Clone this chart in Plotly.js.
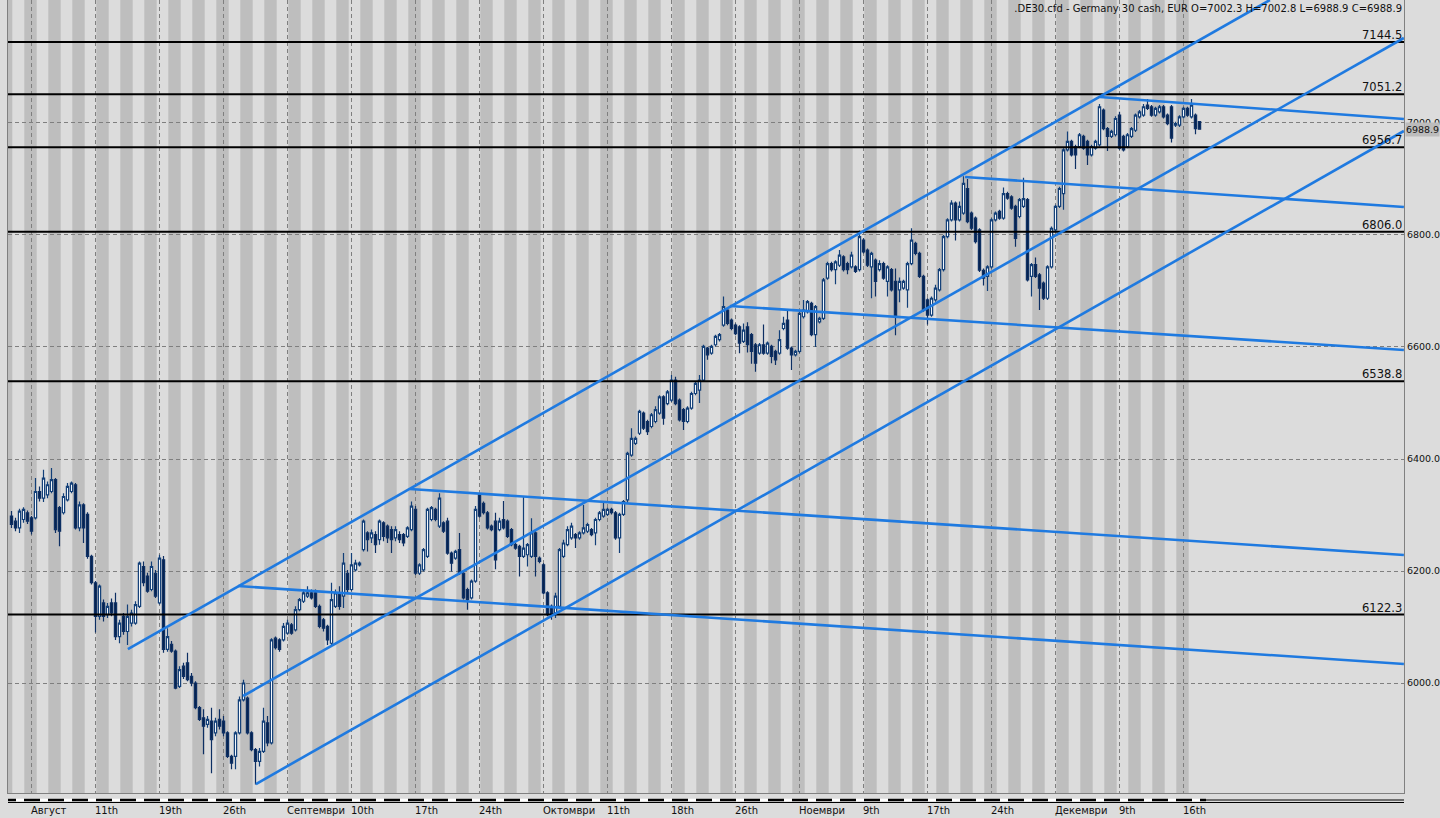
<!DOCTYPE html>
<html>
<head>
<meta charset="utf-8">
<script src="https://cdn.plot.ly/plotly-3.0.1.min.js"></script>
<style>
  html, body { margin: 0; padding: 0; background: #dcdcdc; overflow: hidden; }
  #chart { width: 1440px; height: 818px; }
</style>
</head>
<body>
<div id="chart"></div>
<script>
// one value per bar
let opens = [
  6298,6289,6277,6292,6304,6295,6295,6342,6330,6336,
  6342,6363,6313,6304,6327,6342,6354,6277,6318,6301,
  6226,6179,6119,6143,6122,6143,6143,6083,6119,6092,
  6107,6107,6137,6208,6191,6167,6196,6143,6220,6060,
  6069,6057,5994,6030,6036,6012,6000,5956,5938,5926,
  5932,5911,5935,5932,5911,5869,5869,5911,5970,5973,
  5911,5881,5860,5878,5929,5893,6080,6077,6077,6089,
  6104,6095,6131,6146,6155,6161,6161,6137,6113,6101,
  6071,6137,6161,6155,6196,6167,6202,6211,6238,6268,
  6259,6265,6256,6286,6280,6274,6259,6265,6265,6262,
  6274,6310,6196,6202,6226,6292,6310,6280,6286,6289,
  6232,6223,6238,6196,6167,6152,6182,6336,6321,6304,
  6280,6289,6274,6292,6289,6274,6247,6244,6226,6229,
  6226,6268,6223,6211,6161,6137,6125,6137,6226,6247,
  6259,6265,6259,6268,6271,6274,6268,6292,6298,6301,
  6310,6304,6259,6301,6327,6407,6428,6446,6482,6467,
  6458,6467,6482,6511,6499,6505,6541,6505,6488,6467,
  6491,6517,6523,6541,6598,6589,6604,6613,6639,6666,
  6648,6639,6636,6610,6636,6622,6604,6589,6604,6589,
  6601,6592,6589,6633,6648,6598,6586,6592,6654,6663,
  6678,6622,6645,6651,6723,6749,6738,6746,6761,6749,
  6743,6743,6738,6791,6773,6743,6755,6738,6749,6717,
  6738,6717,6702,6705,6702,6749,6785,6767,6726,6684,
  6657,6684,6702,6738,6797,6827,6857,6827,6839,6883,
  6839,6830,6809,6737,6726,6743,6827,6842,6830,6874,
  6868,6851,6833,6851,6863,6726,6747,6729,6714,6687,
  6743,6809,6851,6874,6952,6967,6958,6958,6976,6967,
  6943,6955,6961,7023,6990,6976,6979,7014,6976,6958,
  6976,6987,7011,7014,7032,7029,7014,7020,7029,7014,
  7029,6996,6996,7011,7026,7011,7014,7002.3
];
let highs = [
  6307,6295,6311,6314,6308,6298,6366,6351,6381,6360,
  6384,6366,6316,6339,6357,6360,6357,6324,6321,6305,
  6229,6182,6176,6149,6143,6151,6161,6113,6125,6140,
  6131,6146,6217,6217,6197,6217,6202,6229,6227,6098,
  6075,6060,6030,6036,6054,6018,6003,5959,5953,5941,
  5956,5938,5953,5941,5914,5872,5914,5976,6006,5976,
  5914,5884,5884,5956,5941,6080,6083,6080,6107,6113,
  6107,6137,6152,6167,6173,6167,6167,6140,6116,6104,
  6179,6167,6173,6232,6202,6232,6220,6217,6292,6271,
  6274,6271,6292,6289,6283,6280,6280,6271,6268,6280,
  6324,6316,6214,6241,6313,6316,6313,6339,6289,6295,
  6235,6238,6268,6199,6170,6185,6316,6339,6324,6307,
  6283,6304,6295,6325,6292,6277,6250,6247,6334,6250,
  6294,6271,6226,6214,6164,6140,6161,6241,6256,6280,
  6286,6268,6271,6318,6286,6277,6295,6307,6322,6313,
  6313,6307,6304,6327,6413,6455,6440,6488,6485,6470,
  6482,6494,6514,6514,6523,6550,6547,6508,6491,6494,
  6520,6538,6550,6604,6600,6604,6622,6625,6690,6669,
  6651,6642,6639,6642,6644,6625,6607,6607,6640,6610,
  6604,6595,6630,6654,6666,6601,6595,6663,6684,6684,
  6681,6675,6654,6723,6752,6752,6755,6773,6764,6752,
  6770,6746,6808,6794,6776,6770,6758,6755,6752,6746,
  6741,6740,6724,6720,6752,6812,6788,6770,6729,6687,
  6690,6711,6741,6800,6830,6862,6860,6860,6905,6900,
  6842,6833,6812,6740,6746,6830,6842,6845,6885,6877,
  6871,6854,6866,6902,6866,6750,6760,6732,6717,6746,
  6815,6854,6886,6955,6985,6970,6961,6982,6979,6970,
  6961,6970,7034,7026,6993,6988,7012,7020,6979,6982,
  6993,7017,7023,7034,7043,7032,7029,7032,7032,7017,
  7032,7002,7014,7029,7029,7043,7017,7002.8
];
let lows = [
  6277,6271,6268,6286,6284,6265,6292,6324,6323,6330,
  6339,6268,6244,6301,6324,6339,6274,6271,6250,6222,
  6176,6090,6113,6110,6116,6119,6077,6071,6086,6068,
  6101,6104,6134,6173,6161,6164,6152,6140,6054,6056,
  6054,5989,5991,6007,6003,5994,5953,5932,5873,5920,
  5839,5905,5917,5905,5866,5846,5846,5908,5967,5908,
  5878,5819,5851,5875,5887,5890,6060,6056,6074,6086,
  6086,6092,6128,6143,6152,6149,6134,6098,6092,6068,
  6068,6134,6131,6134,6161,6164,6199,6208,6235,6235,
  6250,6232,6247,6253,6250,6232,6253,6250,6244,6259,
  6271,6193,6193,6199,6223,6289,6289,6277,6268,6229,
  6199,6220,6193,6149,6131,6149,6179,6295,6301,6274,
  6271,6203,6271,6274,6259,6244,6238,6190,6223,6208,
  6223,6190,6214,6158,6119,6113,6116,6134,6223,6244,
  6256,6241,6256,6265,6268,6262,6246,6289,6295,6298,
  6301,6256,6232,6298,6322,6404,6425,6443,6452,6443,
  6455,6464,6479,6461,6496,6502,6496,6467,6452,6464,
  6488,6514,6500,6538,6577,6586,6601,6610,6636,6639,
  6630,6621,6589,6607,6590,6570,6556,6586,6586,6586,
  6571,6568,6586,6630,6595,6559,6583,6589,6651,6660,
  6619,6600,6642,6648,6720,6735,6712,6743,6735,6730,
  6740,6732,6735,6767,6743,6687,6690,6735,6720,6690,
  6699,6621,6680,6702,6670,6746,6764,6723,6663,6640,
  6654,6681,6699,6735,6794,6824,6790,6824,6836,6821,
  6809,6785,6734,6710,6700,6740,6824,6827,6827,6863,
  6845,6779,6830,6848,6717,6690,6723,6666,6684,6684,
  6740,6806,6848,6845,6949,6940,6918,6955,6952,6925,
  6940,6952,6958,6987,6950,6973,6976,6952,6949,6955,
  6973,6984,7008,7011,7023,7011,7011,7017,7008,6996,
  6965,6993,6993,7008,7011,7008,6980,6988.9
];
let closes = [
  6283,6277,6307,6310,6289,6271,6342,6330,6366,6354,
  6363,6274,6271,6333,6351,6357,6277,6318,6277,6226,
  6179,6119,6173,6119,6137,6125,6083,6107,6092,6119,
  6125,6140,6214,6179,6164,6208,6155,6223,6060,6083,
  6057,5991,6024,6012,6006,6000,5956,5935,5923,5935,
  5899,5932,5923,5911,5869,5857,5911,5970,6000,5911,
  5881,5860,5878,5932,5893,6077,6063,6060,6101,6107,
  6089,6131,6149,6161,6161,6152,6137,6101,6098,6077,
  6149,6161,6137,6214,6167,6211,6214,6214,6289,6256,
  6268,6247,6289,6262,6259,6256,6274,6256,6250,6277,
  6316,6196,6211,6238,6310,6313,6292,6330,6271,6232,
  6214,6235,6196,6152,6149,6182,6310,6298,6304,6277,
  6274,6220,6289,6277,6262,6247,6241,6226,6241,6247,
  6268,6226,6217,6161,6122,6122,6155,6238,6250,6274,
  6280,6259,6268,6277,6283,6265,6292,6304,6310,6310,
  6304,6259,6301,6324,6410,6437,6437,6485,6455,6449,
  6479,6488,6511,6473,6520,6541,6499,6470,6467,6491,
  6517,6535,6541,6601,6586,6601,6619,6622,6672,6642,
  6633,6624,6607,6630,6604,6592,6571,6604,6589,6607,
  6583,6577,6613,6642,6598,6586,6592,6660,6666,6681,
  6622,6672,6651,6720,6749,6738,6752,6764,6738,6738,
  6764,6735,6797,6770,6746,6767,6717,6749,6723,6743,
  6702,6654,6717,6717,6749,6791,6767,6726,6666,6657,
  6687,6705,6738,6797,6827,6857,6827,6851,6892,6824,
  6812,6788,6737,6723,6743,6827,6839,6830,6874,6866,
  6848,6794,6863,6865,6720,6747,6726,6705,6687,6743,
  6812,6851,6883,6952,6967,6943,6943,6979,6955,6943,
  6958,6967,7029,6990,6976,6985,7008,6955,6952,6979,
  6990,7014,7020,7029,7026,7014,7026,7029,7011,6999,
  6973,6999,7011,7026,7014,7032,6990,6988.9
];

let levelPrices = [7144.5, 7051.2, 6956.7, 6806.0, 6538.8, 6122.3];
let priceTicks = [6000, 6200, 6400, 6600, 6800, 7000];
let lastPrice = 6988.9;

let dateLabels = ['Август', '11th', '19th', '26th', 'Септември', '10th', '17th', '24th', 'Октомври',
  '11th', '18th', '26th', 'Ноември', '9th', '17th', '24th', 'Декември', '9th', '16th'];
let dateBars = [5, 21, 37, 53, 69, 85, 101, 117, 133, 149, 165, 181, 197, 213, 229, 245, 261, 277, 293];

// channel lines: bar, price at each end
let channelBars = [[29.1, 314.6], [57.9, 348.1], [61.1, 348.1]];
let channelPrices = [[6060.7, 7219.6], [5976.8, 7151.8], [5819.6, 6985.7]];
let fanBars = [[56.6, 348.1], [99.6, 348.1], [179.6, 348.1], [238.4, 348.1], [272.1, 348.1]];
let fanPrices = [[6173.2, 6033.9], [6346.4, 6228.6], [6673.2, 6594.6], [6903.6, 6850.0], [7046.4, 7007.1]];

let titleText = '.DE30.cfd - Germany 30 cash, EUR O=7002.3 H=7002.8 L=6988.9 C=6988.9';

let font = 'DejaVu Sans, sans-serif';
let blue = '#1f7ae0';
let barIndex = closes.map((c, i) => i);
let firstBar = -0.875, lastBar = 348.125;

let traces = [{
  type: 'candlestick',
  x: barIndex,
  open: opens,
  high: highs,
  low: lows,
  close: closes,
  whiskerwidth: 0,
  increasing: { line: { color: '#123f78', width: 1.2 }, fillcolor: '#f4f8fc' },
  decreasing: { line: { color: '#0d2f63', width: 1.2 }, fillcolor: '#08234f' },
  hoverinfo: 'skip'
}];

levelPrices.forEach(p => {
  traces.push({
    type: 'scatter', mode: 'lines',
    x: [firstBar, lastBar], y: [p, p],
    line: { color: '#000000', width: 2 },
    hoverinfo: 'skip'
  });
});

channelBars.concat(fanBars).forEach((bars, i) => {
  traces.push({
    type: 'scatter', mode: 'lines',
    x: bars, y: channelPrices.concat(fanPrices)[i],
    line: { color: blue, width: 2.6 },
    hoverinfo: 'skip'
  });
});

// alternating session bands
let shapes = [{
  type: 'rect', xref: 'x', yref: 'paper', layer: 'below',
  x0: firstBar, x1: 0.2, y0: 0, y1: 1,
  fillcolor: '#bebebe', line: { width: 0 }
}];
for (let k = 0; k < 49; k++) {
  shapes.push({
    type: 'rect', xref: 'x', yref: 'paper', layer: 'below',
    x0: 3.2 + 6 * k, x1: 6.3 + 6 * k, y0: 0, y1: 1,
    fillcolor: '#bebebe', line: { width: 0 }
  });
}

// period strip under the axis
function stripLine(x0, x1, y, width, dash, color) {
  shapes.push({
    type: 'line', xref: 'paper', yref: 'paper',
    x0: (x0 - 8) / 1396, x1: (x1 - 8) / 1396,
    y0: (793 - y) / 793, y1: (793 - y) / 793,
    line: { color: color, width: width, dash: dash }
  });
}
stripLine(8, 1206, 800, 2.5, 'solid', '#ffffff');
stripLine(8, 1404, 802.5, 1, 'solid', '#000000');
stripLine(1206, 1404, 800, 1, 'solid', '#000000');
stripLine(8, 16, 800, 2.5, 'solid', '#000000');
stripLine(24, 1206, 800, 2.5, '16px,8px', '#000000');

let annotations = [];
dateLabels.forEach((t, i) => {
  annotations.push({
    text: t, xref: 'x', yref: 'paper',
    x: dateBars[i], y: -17 / 793,
    xanchor: 'left', yanchor: 'middle', xshift: -3,
    showarrow: false, font: { family: font, size: 10, color: '#111111' }
  });
});
levelPrices.forEach(p => {
  annotations.push({
    text: p.toFixed(1), xref: 'paper', yref: 'y',
    x: 1, y: p, xanchor: 'right', yanchor: 'bottom', xshift: -1, yshift: -1,
    showarrow: false, borderpad: 0, font: { family: font, size: 11.5, color: '#111111' }
  });
});
annotations.push({
  text: lastPrice.toFixed(1), xref: 'paper', yref: 'y',
  x: 1, y: lastPrice, xanchor: 'left', yanchor: 'middle', xshift: 1,
  width: 33, height: 13, align: 'center',
  showarrow: false, borderpad: 0, bgcolor: '#bcbcbc',
  font: { family: font, size: 9.5, color: '#111111' }
});

let layout = {
  width: 1440,
  height: 818,
  margin: { l: 8, r: 36, t: 0, b: 25, pad: 0 },
  paper_bgcolor: '#dcdcdc',
  plot_bgcolor: '#dcdcdc',
  showlegend: false,
  boxgap: 0.2,
  dragmode: false,
  title: {
    text: titleText,
    x: 1402 / 1440, xanchor: 'right',
    y: 0.996, yanchor: 'top',
    pad: { t: 2 },
    font: { family: font, size: 10, color: '#111111' }
  },
  xaxis: {
    type: 'linear',
    range: [firstBar, lastBar],
    rangeslider: { visible: false },
    tickvals: dateBars,
    showticklabels: false,
    ticks: '',
    showgrid: true,
    gridcolor: '#7f7f7f',
    griddash: '4px,3px',
    gridwidth: 1,
    zeroline: false,
    showline: true,
    linecolor: '#808080',
    linewidth: 1
  },
  yaxis: {
    side: 'right',
    range: [5803.6, 7219.6],
    tickvals: priceTicks,
    tickformat: '.1f',
    ticks: '',
    tickfont: { family: font, size: 9.5, color: '#111111' },
    showgrid: true,
    gridcolor: '#7f7f7f',
    griddash: '4px,3px',
    gridwidth: 1,
    zeroline: false,
    showline: true,
    mirror: true,
    linecolor: '#808080',
    linewidth: 1
  },
  shapes: shapes,
  annotations: annotations
};

Plotly.newPlot('chart', traces, layout, { displayModeBar: false, staticPlot: true });
</script>
</body>
</html>
